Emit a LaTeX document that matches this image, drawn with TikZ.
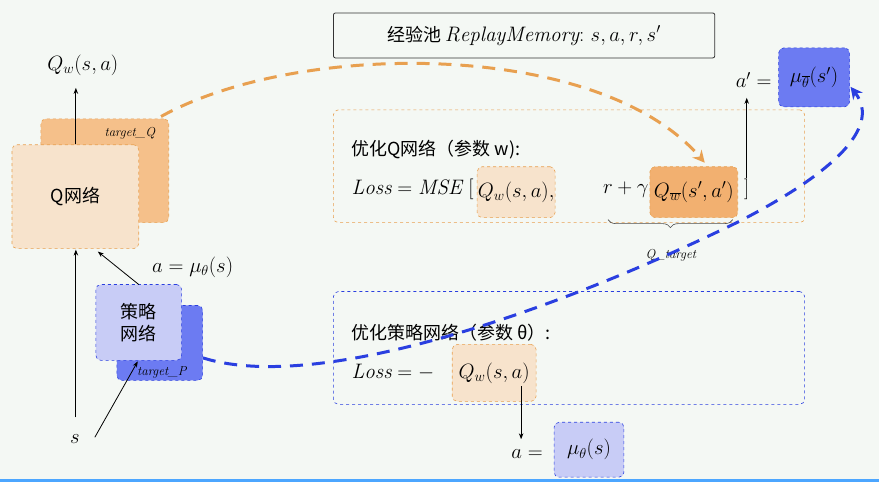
\documentclass[tikz,border=0pt]{standalone}
\usepackage{fontspec}
\newfontfamily\cjk{Noto Sans CJK SC}
\usetikzlibrary{decorations.pathreplacing,arrows.meta}
\definecolor{bg}{HTML}{F4F8F4}
\definecolor{orD}{HTML}{E8A050}
\definecolor{orF}{HTML}{F5C08A}
\definecolor{orL}{HTML}{F7E3CC}
\definecolor{orM}{HTML}{F2B070}
\definecolor{blD}{HTML}{2A3FE0}
\definecolor{blF}{HTML}{6C7BF2}
\definecolor{blL}{HTML}{C8CCF6}
\newcommand{\fbigx}{\fontsize{21}{25}\selectfont}
\newcommand{\fmidx}{\fontsize{18}{22}\selectfont}
\newcommand{\fsmlx}{\fontsize{13}{15}\selectfont}
\tikzset{
 box/.style={draw, dashed, rounded corners=5pt, line width=0.6pt},
 obox/.style={box, draw=orD, fill=#1},
 bbox/.style={box, draw=blD, fill=#1},
 arr/.style={-{Stealth[length=6pt]}, line width=0.8pt},
 bigd/.style={line width=3pt, dash pattern=on 13pt off 9pt},
 lbl/.style={inner sep=0pt, font=\fbigx},
}
\begin{document}
\begin{tikzpicture}[x=1pt,y=-1pt]
\fill[bg] (0,0) rectangle (880,483);
\fill[blue!50!cyan!70] (0,480) rectangle (880,483);
% replay memory
\node[draw=black!80, rounded corners=2pt, line width=0.8pt, minimum width=382pt, minimum height=45pt, font=\fbigx] (rm) at (525,35.5) {{\cjk\fmidx 经验池}\,$\mathit{ReplayMemory}$:\ $s,a,r,s'$};
% left side
\node[obox=orF, minimum width=128pt, minimum height=104pt] (tq) at (105,171) {};
\node[font=\fsmlx\itshape, inner sep=0pt] (tql) at (130,133) {target\_Q};
\node[obox=orL, minimum width=127pt, minimum height=104pt, font=\fmidx\cjk] (qn) at (75.5,197) {Q网络};
\node[lbl] (qout) at (83,65) {$Q_w(s,a)$};
\draw[arr] (qn.north -| 76,0) -- (76,88);
\node[bbox=blF, minimum width=86pt, minimum height=75pt] (tp) at (160,343.5) {};
\node[font=\fsmlx\itshape, inner sep=0pt] (tpl) at (162,373) {target\_P};
\node[bbox=blL, minimum width=86pt, minimum height=76pt, font=\fmidx\cjk, align=center] (pn) at (139,323) {策略\\网络};
\node[lbl] (al) at (193,268) {$a=\mu_\theta(s)$};
\node[lbl] (s) at (75,440) {$s$};
\coordinate (s1) at (76,418);
\coordinate (s2) at (95,438);
\draw[arr] (s1) -- (76,250);
\draw[arr] (s2) -- (138,362);
\draw[arr] (139,285) -- (98,252);
% Q optimisation
\node[obox=none, minimum width=472pt, minimum height=113pt] (qo) at (570,166.5) {};
\node[anchor=west, inner sep=0pt, font=\fmidx\cjk] (qt) at (352,150) {优化Q网络（参数 w):};
\node[anchor=west, lbl] (ql) at (352,190) {$\mathit{Loss}=\mathit{MSE}\ [$};
\node[obox=orL, minimum width=78pt, minimum height=51pt, inner sep=0pt, font=\fbigx] (qw1) at (517,192.5) {$Q_w(s,a),$};
\node[anchor=west, lbl] (rg) at (604,190) {$r+\gamma$};
\node[obox=orM, minimum width=88pt, minimum height=51pt, inner sep=0pt, font=\fbigx] (qbar) at (695,192.5) {$Q_{\overline{w}}(s',a')$};
\node[lbl] (rb) at (748,190) {$]$};
\draw[decorate, decoration={brace, mirror, amplitude=8pt}, line width=0.6pt, black!70] (609,220) -- (734,220);
\node[font=\fsmlx\itshape, inner sep=0pt] (qtl) at (672,256) {Q\_target};
% a'
\node[lbl] (ap) at (755,80) {$a'=$};
\node[bbox=blF, minimum width=71pt, minimum height=59pt, inner sep=0pt, font=\fbigx] (mu2) at (815.5,77.5) {$\mu_{\overline{\theta}}(s')$};
\draw[arr] (748,178) -- (748,98);
% policy optimisation
\node[bbox=none, minimum width=472pt, minimum height=113pt] (po) at (570,348.5) {};
\node[anchor=west, inner sep=0pt, font=\fmidx\cjk] (pt) at (352,333) {优化策略网络（参数 θ）:};
\node[anchor=west, lbl] (pl) at (352,373) {$\mathit{Loss}=-$};
\node[obox=orL, minimum width=84pt, minimum height=57pt, inner sep=0pt, font=\fbigx] (qw2) at (495,373.5) {$Q_w(s,a)$};
\draw[arr] (522,387) -- (522,440);
\node[lbl] (a2) at (528,455) {$a=$};
\node[bbox=blL, minimum width=70pt, minimum height=55pt, inner sep=0pt, font=\fbigx] (mu1) at (590,450.5) {$\mu_\theta(s)$};
% big dashed curves
\draw[bigd, orD, -{Stealth[length=12pt,width=12pt]}] (tq.north east) ++(-8,-2) .. controls (300,40) and (600,40) .. (706,163);
\draw[bigd, blD, -{Stealth[length=12pt,width=12pt]}] (tp.east) ++(0,15) .. controls (320,395) and (560,310) .. (740,222) .. controls (880,150) and (870,110) .. (852,87);
\end{tikzpicture}
\end{document}
